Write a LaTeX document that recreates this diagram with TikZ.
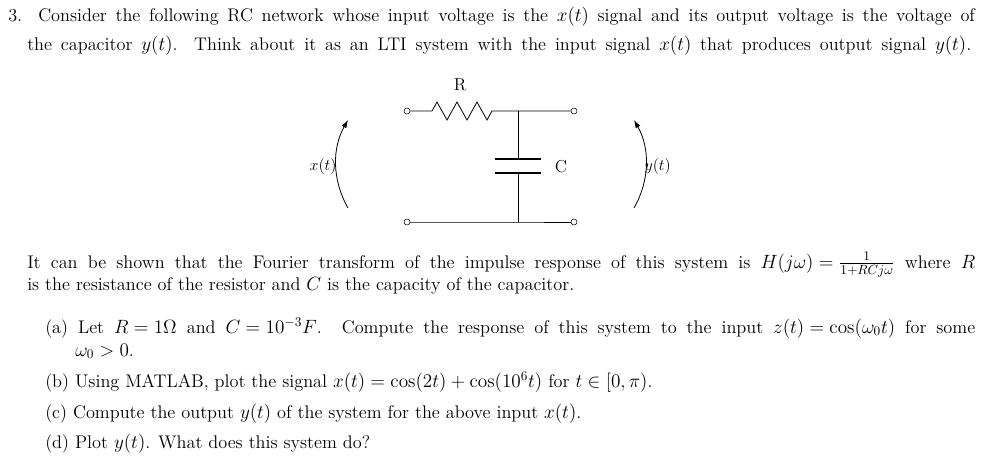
\documentclass[tikz,border=0pt]{standalone}
\usepackage{amsmath}
\usetikzlibrary{arrows.meta}
\tikzset{
  term/.style={draw,circle,fill=white,inner sep=0pt,minimum size=4.5pt},
  txt/.style={anchor=base west,inner sep=0pt,font=\fontsize{13.7}{17}\selectfont},
  clab/.style={inner sep=1pt,font=\fontsize{13}{15}\selectfont},
  wire/.style={draw,line width=0.6pt}
}
\newcommand{\fullline}[1]{\makebox[\linelen][s]{#1}}
\newlength{\linelen}
\begin{document}
\begin{tikzpicture}[x=0.75pt,y=-0.75pt]
\useasboundingbox (0,0) rectangle (982,460);
% text above the circuit
\setlength{\linelen}{725pt}
\node[txt] (l1) at (8,22) {\fullline{3. Consider the following RC network whose input voltage is the $x(t)$ signal and its output voltage is the voltage of}};
\setlength{\linelen}{708pt}
\node[txt] (l2) at (27,51) {\fullline{the capacitor $y(t)$. Think about it as an LTI system with the input signal $x(t)$ that produces output signal $y(t)$.}};
% circuit
\coordinate (ra) at (432,111);
\coordinate (rb) at (492,111);
\coordinate (tc) at (518,111);
\coordinate (bc) at (518,222);
\coordinate (cp1) at (518,159);
\coordinate (cp2) at (518,173);
\node[term] (inp) at (407,111) {};
\node[term] (inn) at (407,222) {};
\node[term] (outp) at (574,111) {};
\node[term] (outn) at (574,222) {};
\draw[wire] (inp) -- (ra)
  \foreach \k in {0,...,2} { -- ++(5,-9) -- ++(10,18) -- ++(5,-9) } -- (tc) -- (outp);
\draw[wire] (inn) -- (bc) -- (outn);
\draw[wire] (tc) -- (cp1) (cp2) -- (bc);
\draw[line width=1.2pt] ([xshift=-17pt]cp1) -- ([xshift=17pt]cp1);
\draw[line width=1.2pt] ([xshift=-17pt]cp2) -- ([xshift=17pt]cp2);
\node[clab] (rlab) at (460,85) {R};
\node[clab] (clab) at (561,167) {C};
% voltage arrows
\coordinate (xa) at (348,208);
\coordinate (xb) at (348,120);
\coordinate (ya) at (634,208);
\coordinate (yb) at (634,120);
\draw[line width=0.6pt,-{Latex[length=6pt,width=4pt]}] (xa) .. controls (332,180) and (332,148) .. (xb);
\draw[line width=0.6pt,-{Latex[length=6pt,width=4pt]}] (ya) .. controls (650,180) and (650,148) .. (yb);
\node[clab,anchor=east] (xlab) at (338,166) {$x(t)$};
\node[clab,anchor=west] (ylab) at (643,166) {$y(t)$};
% text below the circuit
\setlength{\linelen}{711pt}
\node[txt] (l3) at (27,268) {\fullline{It can be shown that the Fourier transform of the impulse response of this system is \mbox{$H(j\omega)=\frac{1}{1+RCj\omega}$} where $R$}};
\node[txt] (l4) at (27,290) {is the resistance of the resistor and $C$ is the capacity of the capacitor.};
\setlength{\linelen}{697.5pt}
\node[txt] (pa) at (45,333) {\fullline{(a) Let \mbox{$R=1\Omega$} and \mbox{$C=10^{-3}F$}. Compute the response of this system to the input \mbox{$z(t)=\cos(\omega_0t)$} for some}};
\node[txt] (pa2) at (75,356) {$\omega_0>0$.};
\node[txt] (pb) at (45,387) {(b) Using MATLAB, plot the signal $x(t)=\cos(2t)+\cos(10^6t)$ for $t\in[0,\pi)$.};
\node[txt] (pc) at (45,418) {(c) Compute the output $y(t)$ of the system for the above input $x(t)$.};
\node[txt] (pd) at (45,448) {(d) Plot $y(t)$. What does this system do?};
\end{tikzpicture}
\end{document}
